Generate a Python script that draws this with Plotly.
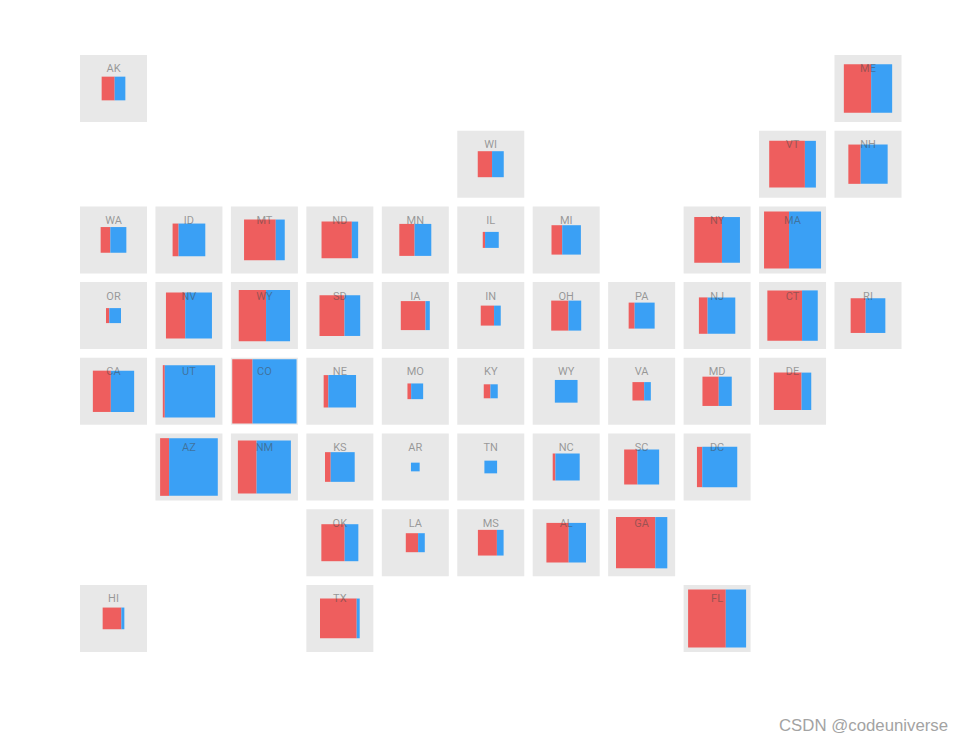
import numpy as np
import plotly.graph_objects as go

# tile grid, one entry per tile (labels as printed on the chart, WY shows up twice)
states = ['AK', 'ME',
          'WI', 'VT', 'NH',
          'WA', 'ID', 'MT', 'ND', 'MN', 'IL', 'MI', 'NY', 'MA',
          'OR', 'NV', 'WY', 'SD', 'IA', 'IN', 'OH', 'PA', 'NJ', 'CT', 'RI',
          'CA', 'UT', 'CO', 'NE', 'MO', 'KY', 'WY', 'VA', 'MD', 'DE',
          'AZ', 'NM', 'KS', 'AR', 'TN', 'NC', 'SC', 'DC',
          'OK', 'LA', 'MS', 'AL', 'GA',
          'HI', 'TX', 'FL']
cols = [0, 10,
        5, 9, 10,
        0, 1, 2, 3, 4, 5, 6, 8, 9,
        0, 1, 2, 3, 4, 5, 6, 7, 8, 9, 10,
        0, 1, 2, 3, 4, 5, 6, 7, 8, 9,
        1, 2, 3, 4, 5, 6, 7, 8,
        3, 4, 5, 6, 7,
        0, 3, 8]
rows = [0, 0,
        1, 1, 1,
        2, 2, 2, 2, 2, 2, 2, 2, 2,
        3, 3, 3, 3, 3, 3, 3, 3, 3, 3, 3,
        4, 4, 4, 4, 4, 4, 4, 4, 4, 4,
        5, 5, 5, 5, 5, 5, 5, 5,
        6, 6, 6, 6, 6,
        7, 7, 7]

# in px of a 67px tile
red = [13, 27.3,
       14.3, 35.7, 12.3,
       9.7, 6, 31.7, 30.3, 15.3, 2.3, 10.7, 27.7, 25,
       3.3, 19.3, 27.3, 25, 24.7, 13.3, 17.3, 6, 8.7, 34.7, 15,
       18, 2, 20.3, 4.7, 3.7, 6.7, 0, 11.7, 16.3, 27.7,
       9, 18.7, 5.7, 0, 0, 2.7, 13.3, 5.3,
       23.3, 12.3, 19, 22.3, 39.3,
       18.7, 36.7, 37.7]
blue = [10.7, 21,
        11.7, 11, 27,
        16, 26.7, 9, 6.3, 16.7, 13.7, 18.7, 18, 32,
        11.7, 26.7, 24, 15.7, 4.3, 6.7, 12.7, 20, 27.7, 15.7, 19.7,
        23.3, 50.3, 44, 27.7, 12, 7.3, 22.7, 6.7, 13, 9.7,
        48.7, 34.3, 24, 8.7, 12.7, 24.3, 21.7, 35,
        13.7, 6.7, 6.7, 17.3, 12,
        3, 3, 20.3]

tile_size = 67
col_px = 75.45
row_px = 75.7

cols = np.array(cols)
rows = np.array(rows)
red = np.array(red)
blue = np.array(blue)
total = red + blue

left = cols - total / 2 / col_px

fig = go.Figure()

# grey tiles
fig.add_trace(go.Bar(orientation='h', y=rows, x=[tile_size / col_px] * len(cols),
                     base=cols - tile_size / 2 / col_px, width=tile_size / row_px,
                     marker=dict(color='#e8e8e8', line_width=0), hoverinfo='skip'))
# red part, then blue part next to it
fig.add_trace(go.Bar(orientation='h', y=rows, x=red / col_px, base=left, width=total / row_px,
                     marker=dict(color='#ee5e5e', line_width=0), hoverinfo='skip'))
fig.add_trace(go.Bar(orientation='h', y=rows, x=blue / col_px, base=left + red / col_px, width=total / row_px,
                     marker=dict(color='#3aa0f5', line_width=0), hoverinfo='skip'))

fig.add_trace(go.Scatter(x=cols, y=rows - 18.8 / row_px, mode='text', text=states,
                         textfont=dict(family='Roboto', size=11, color='rgba(70,70,70,0.5)'),
                         hoverinfo='skip'))

fig.add_annotation(text='CSDN @codeuniverse', xref='paper', yref='paper', x=950 / 963, y=1 - 725 / 740,
                   xanchor='right', yanchor='middle', showarrow=False,
                   font=dict(family='Liberation Sans', size=16.8, color='#a3a3a3'))

fig.update_layout(width=963, height=740, margin=dict(l=0, r=0, t=0, b=0),
                  barmode='overlay', showlegend=False,
                  paper_bgcolor='white', plot_bgcolor='white')
fig.update_xaxes(range=[-113.5 / col_px, (963 - 113.5) / col_px], visible=False)
fig.update_yaxes(range=[(740 - 88.5) / row_px, -88.5 / row_px], visible=False)

fig.write_html("out.html", config=dict(displayModeBar=False),
               post_script="document.body.style.margin='0';")
